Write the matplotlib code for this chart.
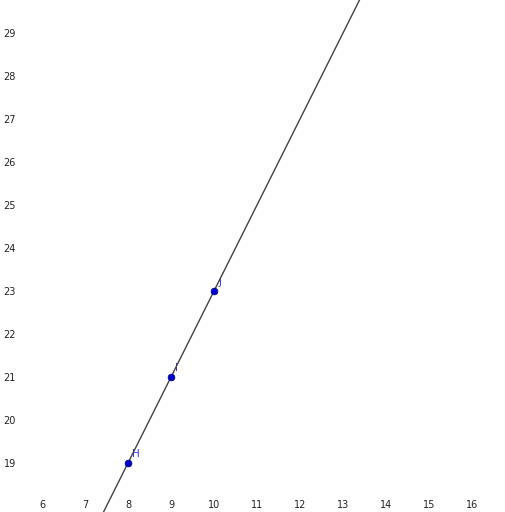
import matplotlib
matplotlib.use("Agg")
import matplotlib.pyplot as plt
import numpy as np

# Data
point_names = ["H", "I", "J"]
point_x = [8, 9, 10]
point_y = [19, 21, 23]
line_slope = 2
line_intercept = 3
x_ticks = [6, 7, 8, 9, 10, 11, 12, 13, 14, 15, 16]
y_ticks = [19, 20, 21, 22, 23, 24, 25, 26, 27, 28, 29]

fig = plt.figure(figsize=(5.05, 5.12), dpi=100)
ax = fig.add_axes([0, 0, 1, 1])
ax.set_xlim(5.023, 16.767)
ax.set_ylim(17.8605, 29.767)
for s in ax.spines.values():
    s.set_visible(False)

# Line through points
xs = np.array(ax.get_xlim())
ax.plot(xs, line_slope * xs + line_intercept, color="#404040", lw=1.0, zorder=3)

# Points
ax.scatter(point_x, point_y, s=24, color="#0000cc", edgecolors="#000080",
           linewidths=0.5, zorder=4)
for n, px, py in zip(point_names, point_x, point_y):
    ax.annotate(n, (px, py), xytext=(3, 3), textcoords="offset points",
                color="#3333ff", fontsize=7.5, zorder=2, ha="left", va="bottom")

# Ticks inside the plot area
ax.set_xticks(x_ticks)
ax.set_yticks(y_ticks)
ax.tick_params(axis="x", length=0, pad=-8.8, labelsize=7, labelcolor="#222222")
ax.tick_params(axis="y", length=0, pad=-2.5, labelsize=7, labelcolor="#222222")
for lab in ax.get_yticklabels():
    lab.set_horizontalalignment("left")

fig.savefig("out.png", dpi=100)
